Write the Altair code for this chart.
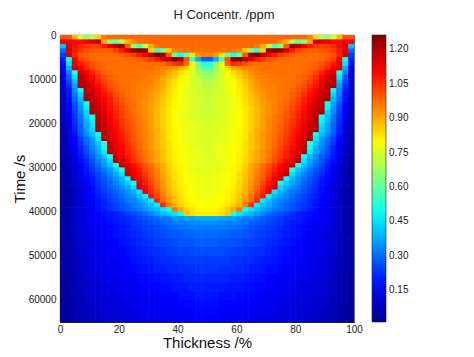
import altair as alt
import pandas as pd

# Left half of the profile (x = 1, 3, ... 49 %), values in 1/100 ppm; the specimen is symmetric
x_centres = list(range(1, 50, 2))
time_edges = list(range(0, 45000, 1000)) + [46000, 48000, 50000, 52000, 54000, 56000, 58000, 60000, 62000, 64000, 65000]
left_half = [
[100,100,88,75,65,70,85,95,98,98,98,98,98,98,98,98,98,98,98,98,98,98,98,98,98],
[112,112,110,110,112,115,118,90,65,60,70,88,94,97,98,98,98,98,98,98,98,98,98,98,98],
[40,115,110,106,104,103,104,108,113,118,124,100,65,58,72,90,96,98,98,98,98,98,98,98,98],
[30,115,108,104,101,100,99,99,100,103,108,115,124,125,122,85,55,62,85,94,96,97,97,97,97],
[24,115,106,101,99,98,98,98,98,98,99,101,104,108,113,120,125,122,100,60,50,60,82,92,95],
[20,50,112,103,100,98,97,97,97,97,97,98,98,99,101,104,108,114,120,125,122,100,55,38,28],
[18,45,114,108,104,101,99,98,97,97,97,97,97,97,97,97,97,98,101,104,106,98,80,64,52],
[15,38,116,111,106,102,99,98,97,97,97,97,97,97,97,97,96,95,94,92,89,84,76,66,58],
[13,32,52,117,112,107,102,99,98,97,97,97,97,96,96,96,95,93,90,87,84,80,75,69,64],
[12,28,45,119,115,110,105,101,99,98,97,97,97,96,96,95,94,91,88,85,81,78,75,71,68],
[11,25,40,120,117,112,107,103,100,98,97,97,96,96,95,95,93,90,86,83,80,77,75,72,70],
[10,22,36,121,118,114,109,105,101,99,97,97,96,95,95,94,92,89,85,82,79,77,75,73,71],
[9,20,33,48,119,115,111,107,103,100,98,97,96,95,94,93,91,88,84,81,79,77,75,73,72],
[9,19,31,43,120,117,113,109,105,101,99,97,96,95,94,92,90,87,84,81,78,76,75,74,72],
[8,18,29,40,121,118,115,111,107,103,100,98,96,95,94,92,89,86,83,80,78,76,75,74,73],
[8,17,27,37,50,119,116,112,108,104,101,98,97,95,93,91,89,86,83,80,78,76,75,74,73],
[7,16,25,35,47,120,117,113,109,105,102,99,97,95,93,91,88,85,82,80,78,76,75,74,73],
[7,15,24,33,43,121,118,114,110,106,103,100,97,95,93,91,88,85,82,79,78,76,75,74,74],
[6,14,23,31,41,50,119,115,111,107,103,100,98,96,93,91,88,85,82,79,78,76,75,74,74],
[6,13,22,30,39,47,120,116,112,108,104,101,98,96,94,91,88,85,82,79,78,76,75,75,74],
[6,12,21,29,37,45,121,117,113,109,105,102,99,96,94,91,88,85,82,79,78,77,76,75,74],
[5,12,20,28,36,43,121,118,114,110,106,102,99,97,94,91,89,85,82,80,78,77,76,75,75],
[5,11,19,27,34,41,50,119,115,111,107,103,100,97,95,92,89,86,82,80,78,77,76,75,75],
[5,11,17,24,30,36,45,120,116,112,108,104,100,97,95,92,89,86,82,80,78,77,76,75,75],
[5,10,16,23,29,35,42,53,117,113,109,105,101,98,95,92,89,86,83,80,79,77,76,76,75],
[4,9,15,21,27,33,39,50,118,114,110,106,102,98,95,92,89,86,83,80,79,78,77,76,75],
[4,9,14,20,26,31,37,46,119,115,111,107,103,99,96,93,90,87,83,81,79,78,77,76,75],
[4,8,13,19,24,29,34,40,50,116,112,108,104,100,96,93,90,87,83,81,79,78,77,76,76],
[4,8,12,18,22,27,32,37,45,118,114,110,105,101,97,93,90,87,84,81,79,78,77,76,76],
[3,7,11,16,20,25,30,35,41,50,118,115,110,105,101,97,93,90,85,82,80,78,77,76,76],
[3,6,10,15,19,23,27,31,36,42,52,116,112,107,102,98,94,90,86,82,80,78,77,76,76],
[3,6,10,14,18,22,25,29,33,38,45,118,114,109,104,99,95,91,86,83,80,79,78,77,76],
[3,6,10,14,17,20,24,27,31,35,40,48,116,111,106,100,96,91,87,83,81,79,78,77,77],
[3,6,9,13,16,19,23,26,29,33,37,42,50,114,108,102,97,92,87,84,81,79,78,77,77],
[3,5,9,12,15,18,22,25,28,31,34,38,44,116,110,104,98,93,88,84,81,80,78,77,77],
[3,5,9,12,15,18,21,24,26,29,32,35,39,45,112,106,100,94,89,85,82,80,79,78,77],
[3,5,8,12,15,17,20,22,25,27,30,33,36,40,47,108,102,96,90,86,83,80,79,78,78],
[3,5,8,12,14,17,19,21,24,26,28,31,33,36,40,46,106,98,92,87,83,81,79,78,78],
[3,5,8,11,14,16,19,21,23,25,27,29,31,34,37,41,46,105,95,89,85,82,80,79,79],
[3,6,9,12,14,16,18,20,22,24,26,28,30,32,35,38,41,45,50,96,90,85,82,80,80],
[3,6,9,12,14,16,17,18,19,20,22,24,26,28,30,33,36,39,42,45,50,86,83,81,81],
[3,6,9,12,14,16,17,18,19,20,21,22,24,25,27,28,30,32,33,35,36,37,37,38,38],
[3,6,9,12,14,15,16,17,18,19,20,21,23,24,25,27,28,29,30,32,33,33,34,34,34],
[3,5,8,11,13,14,15,16,17,18,19,20,22,23,24,25,26,27,29,30,31,31,32,32,32],
[3,5,8,11,12,14,15,16,17,18,19,20,21,22,23,24,25,26,27,28,28,29,29,30,30],
[3,5,8,10,12,13,14,15,16,17,18,19,20,21,22,23,24,25,25,26,27,27,27,28,28],
[3,5,7,10,11,13,14,15,16,17,17,18,19,20,21,22,22,23,24,24,25,25,26,26,26],
[3,5,7,9,11,12,13,14,15,16,17,17,18,19,20,20,21,22,22,23,23,24,24,24,24],
[3,5,7,9,10,12,13,14,14,15,16,16,17,18,18,19,20,20,21,21,22,22,22,23,23],
[2,4,6,8,10,11,12,13,14,14,15,15,16,17,17,18,18,19,19,20,20,21,21,21,21],
[2,4,6,8,9,10,11,12,13,13,14,15,15,16,16,17,17,18,18,19,19,19,20,20,20],
[2,4,6,7,9,10,11,11,12,13,13,14,14,15,15,16,16,17,17,17,18,18,18,19,19],
[2,4,5,7,8,9,10,11,11,12,12,13,13,14,14,15,15,16,16,16,17,17,17,18,18],
[2,3,5,6,7,8,9,10,11,11,12,12,13,13,14,14,14,15,15,15,16,16,16,17,17],
[2,3,5,6,7,8,9,10,10,11,11,12,12,13,13,13,14,14,15,15,15,15,16,16,16],
]

jet_stops = [0.011, 0.167, 0.480, 0.793, 1.106, 1.2625]
jet_colors = ["#00008f", "#0000ff", "#00ffff", "#ffff00", "#ff0000", "#800000"]
x_ticks = [0, 20, 40, 60, 80, 100]
y_ticks = [0, 10000, 20000, 30000, 40000, 50000, 60000]
bar_ticks = [0.15, 0.30, 0.45, 0.60, 0.75, 0.90, 1.05, 1.20]

records = []
for i, row in enumerate(left_half):
    assert len(row) == len(x_centres), i
    for cx, v in zip(x_centres, row):
        for c in (cx, 100 - cx):
            # each cell slightly overlaps its right and lower neighbour so that no seams show
            records.append({"x0": c - 1, "x1": c + 1.2, "t0": time_edges[i], "t1": time_edges[i + 1] + 150, "v": v / 100})
df = pd.DataFrame(records).sort_values(["t0", "x0"])

FONT = "Liberation Sans"
scale = alt.Scale(domain=jet_stops, range=jet_colors, interpolate="rgb", clamp=True)

chart = (
    alt.Chart(df)
    .mark_rect(clip=True)
    .encode(
        x=alt.X("x0:Q", scale=alt.Scale(domain=[0, 100], nice=False),
                axis=alt.Axis(values=x_ticks, title="Thickness /%", grid=False, tickSize=0, labelPadding=2,
                              labelFlush=False, labelFont=FONT, labelFontSize=10, labelColor="#222", titleFont=FONT,
                              titleFontSize=15, titleFontWeight="normal", titlePadding=1, titleColor="#111",
                              domainColor="#222")),
        x2="x1:Q",
        y=alt.Y("t0:Q", scale=alt.Scale(domain=[0, 65000], reverse=True, nice=False),
                axis=alt.Axis(values=y_ticks, title="Time /s", format="d", grid=False, tickSize=0, labelPadding=4,
                              labelFlush=False, labelFont=FONT, labelFontSize=10, labelColor="#222", titleFont=FONT,
                              titleFontSize=15, titleFontWeight="normal", titlePadding=1, titleColor="#111",
                              domainColor="#222")),
        y2="t1:Q",
        fill=alt.Fill("v:Q", scale=scale,
                      legend=alt.Legend(type="gradient", orient="none", legendX=312, legendY=0, title=None, values=bar_ticks,
                                        format=".2f", gradientLength=287, gradientThickness=14,
                                        gradientStrokeColor="#222", gradientStrokeWidth=0.6, labelFont=FONT,
                                        labelFontSize=10, labelColor="#222", labelOffset=3)),
    )
    .properties(
        width=294, height=287,
        title=alt.TitleParams("H Concentr. /ppm", font=FONT, fontSize=13, fontWeight="normal", color="#222",
                              anchor="middle", dx=17, offset=8),
        autosize=alt.AutoSizeParams(type="none"),
        padding={"left": 52, "top": 27, "right": 112, "bottom": 33},
    )
    .configure_view(stroke="#222", strokeWidth=0.8)
)

chart.save("out.html", embed_options={"renderer": "svg", "actions": False})
